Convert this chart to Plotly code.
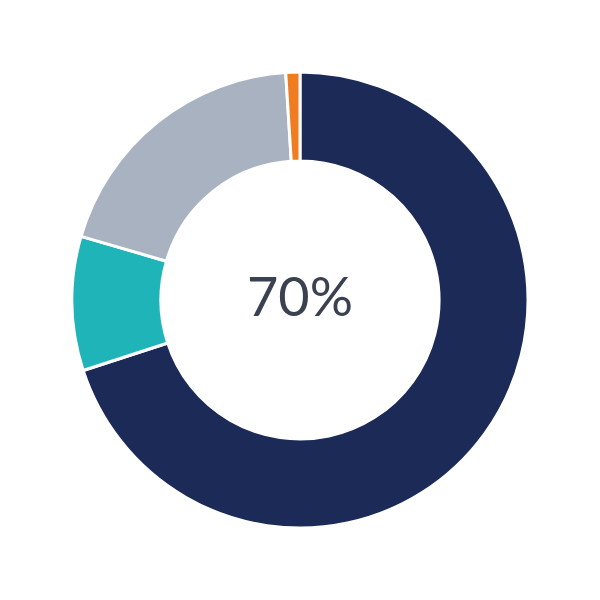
import plotly.graph_objects as go

labels = ["Primary", "Secondary", "Other", "Minor"]
values = [70, 9.5, 19.5, 1]
colors = ["#1b2a57", "#1fb5b8", "#a8b2c1", "#f07c22"]
center_label = "70%"

fig = go.Figure(
    go.Pie(
        labels=labels,
        values=values,
        hole=0.61,
        sort=False,
        direction="clockwise",
        rotation=0,
        marker={"colors": colors, "line": {"color": "#ffffff", "width": 3}},
        textinfo="none",
        hoverinfo="label+percent",
    )
)

fig.update_layout(
    width=600,
    height=600,
    paper_bgcolor="#ffffff",
    plot_bgcolor="#ffffff",
    showlegend=False,
    margin={"l": 64, "r": 80, "t": 64, "b": 80},
    annotations=[
        {
            "text": center_label,
            "x": 0.5,
            "y": 0.5,
            "xref": "paper",
            "yref": "paper",
            "yshift": 5,
            "showarrow": False,
            "font": {"family": "Lato", "size": 54, "color": "#3a4150"},
        }
    ],
)

fig.write_html("out.html")
